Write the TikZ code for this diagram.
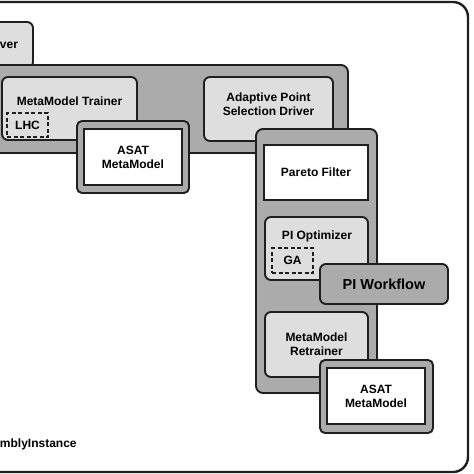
\documentclass[tikz,border=0pt]{standalone}
\usepackage{fontspec}
\setmainfont{Liberation Sans}
\definecolor{holdergray}{gray}{0.67}
\definecolor{partgray}{gray}{0.87}
\definecolor{edgegray}{gray}{0.12}

\begin{document}
\begin{tikzpicture}[
            x = 1pt, y = -1pt,
            every node/.style = {font = \bfseries\fontsize{12}{14}\selectfont, align = center,
                                 inner sep = 0pt, draw = edgegray, line width = 1.9pt},
            holder/.style = {fill = holdergray, rounded corners = 7pt},
            part/.style = {fill = partgray, rounded corners = 6pt},
            model/.style = {fill = white},
            algo/.style = {dash pattern = on 4pt off 2.5pt, line width = 1.5pt},
            caption/.style = {draw = none}
            ]
            \clip (0,0) rectangle (474,474);
            % outer assembly frame
            \node[minimum width = 498pt, minimum height = 470pt, rounded corners = 15pt, line width = 2.4pt]
                 (frame) at (219,237) {};
            \node[caption, anchor = west] (inst) at (-1,444) {mblyInstance};
            % driver column and the workflow band
            \node[part, minimum width = 48pt, minimum height = 46pt] (drv) at (9,45) {ver};
            \node[holder, minimum width = 378pt, minimum height = 88pt] (band) at (159,109) {};
            \node[part, minimum width = 135pt, minimum height = 63pt] (trainer) at (69.5,108.5) {};
            \node[caption] (trainertxt) at (69.5,101) {MetaModel Trainer};
            \node[algo, minimum width = 41pt, minimum height = 24pt] (lhc) at (27.5,125) {LHC};
            \node[part, minimum width = 129pt, minimum height = 64pt] (apsd) at (268.5,109) {};
            \node[caption] (apsdtxt) at (268.5,104) {Adaptive Point\\Selection Driver};
            \node[holder, rounded corners = 5pt, minimum width = 112pt, minimum height = 72pt] (asatA) at (133,157) {};
            \node[model, minimum width = 98pt, minimum height = 56pt] (metaA) at (133,157) {ASAT\\MetaModel};
            % PI workflow column
            \node[holder, minimum width = 121pt, minimum height = 264pt] (pcol) at (316.5,261) {};
            \node[model, minimum width = 104pt, minimum height = 55pt] (pareto) at (316,172.5) {Pareto Filter};
            \node[part, minimum width = 103pt, minimum height = 63pt] (piopt) at (316.5,248.5) {};
            \node[caption] (pitxt) at (317,236) {PI Optimizer};
            \node[algo, minimum width = 41pt, minimum height = 25pt] (ga) at (292.5,260.5) {GA};
            \node[part, minimum width = 103pt, minimum height = 65pt] (retrain) at (316.5,344.5) {MetaModel\\Retrainer};
            \node[holder, rounded corners = 6pt, minimum width = 128pt, minimum height = 40pt,
                  font = \bfseries\fontsize{14.5}{17}\selectfont] (piwf) at (384,284) {PI Workflow};
            \node[holder, rounded corners = 5pt, minimum width = 113pt, minimum height = 73pt] (asatB) at (376.5,396.5) {};
            \node[model, minimum width = 98pt, minimum height = 56pt] (metaB) at (376,396) {ASAT\\MetaModel};
          \end{tikzpicture}
\end{document}
